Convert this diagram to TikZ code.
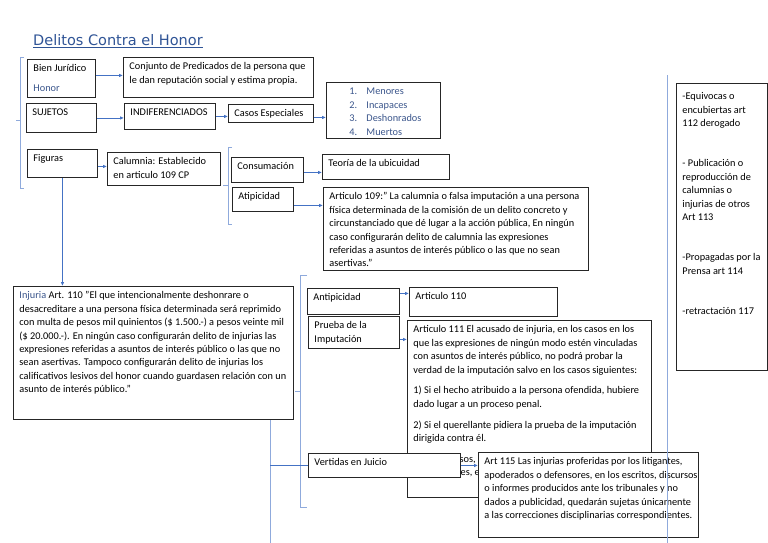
\documentclass[tikz,border=0pt]{standalone}
\usepackage{fontspec}
\setmainfont{Carlito}
\newfontfamily\titlefont{DejaVu Sans}
\usetikzlibrary{arrows.meta}
\definecolor{linkblue}{RGB}{68,114,196}
\definecolor{braceblue}{RGB}{143,170,220}
\definecolor{headblue}{RGB}{47,84,150}
\definecolor{itemblue}{RGB}{59,86,140}
\newcommand{\bodysize}{\fontsize{10.3}{13.4}\selectfont}
\newcommand{\boxtxt}[4][0pt]{\parbox[t][#3pt][t]{#2pt}{\vspace*{#1}%
  \begin{tabular}[t]{@{}l@{}}#4\end{tabular}}}
\tikzset{
  box/.style={draw=black!85, line width=0.9pt, fill=white, anchor=north west,
    inner xsep=6pt, inner ysep=3pt, font=\bodysize},
  link/.style={draw=linkblue, line width=0.8pt, -{Latex[length=4pt,width=3.6pt]}},
  bracket/.style={draw=braceblue, line width=0.8pt},
}
\begin{document}
\begin{tikzpicture}[x=1pt,y=-1pt]
  \useasboundingbox[fill=white] (0,0) rectangle (768,543);
  % title
  \node[anchor=base west, inner sep=0pt, text=headblue,
    font=\titlefont\fontsize{14.5}{17}\selectfont] (title) at (33,46)
    {\underline{Delitos Contra el Honor}};
  % brackets
  \draw[bracket] (24,57) -- (20,57) -- (20,188) -- (24,188);
  \draw[bracket] (20,120) -- (16,120);
  \draw[bracket] (232,147) -- (228,147) -- (228,224) -- (232,224);
  \draw[bracket] (228,185) -- (223,185);
  \draw[bracket] (307,275) -- (300,275) -- (300,507) -- (307,507);
  \draw[bracket] (300,391) -- (295,391);
  \draw[bracket] (292,418) -- (270,418) -- (270,543);
  \coordinate (juicio) at (270,467);
  % boxes
  \node[box] (bien) at (27,59) {\boxtxt{56}{32}{Bien Jurídico\\[6.6pt]{\color{itemblue}Honor}}};
  \node[box] (conj) at (123,57) {\boxtxt{178}{34}{Conjunto de Predicados de la persona que\\
    le dan reputación social y estima propia.}};
  \node[box] (suj) at (26,103) {\boxtxt{58}{23}{SUJETOS}};
  \node[box] (indif) at (124,103) {\boxtxt{79}{20}{INDIFERENCIADOS}};
  \node[box] (casos) at (228,104) {\boxtxt{73}{12}{Casos Especiales}};
  \node[box, text=itemblue] (lista) at (326,82) {\boxtxt{102}{50}{%
    \hspace*{17pt}\makebox[17pt][l]{1.}Menores\\
    \hspace*{17pt}\makebox[17pt][l]{2.}Incapaces\\
    \hspace*{17pt}\makebox[17pt][l]{3.}Deshonrados\\
    \hspace*{17pt}\makebox[17pt][l]{4.}Muertos}};
  \node[box] (fig) at (27,149) {\boxtxt{58}{22}{Figuras}};
  \node[box] (calum) at (107,152) {\boxtxt{101}{27}{Calumnia: Establecido\\en articulo 109 CP}};
  \node[box] (consu) at (231,157) {\boxtxt{60}{19}{Consumación}};
  \node[box] (teoria) at (322,154) {\boxtxt{115}{19}{Teoría de la ubicuidad}};
  \node[box] (atip) at (232,187) {\boxtxt{49}{18}{Atipicidad}};
  \node[box] (art109) at (323,187) {\boxtxt{253}{77}{Articulo 109:" La calumnia o falsa imputación a una persona\\
    física determinada de la comisión de un delito concreto y\\
    circunstanciado que dé lugar a la acción pública, En ningún\\
    caso configurarán delito de calumnia las expresiones\\
    referidas a asuntos de interés público o las que no sean\\
    asertivas."}};
  \node[box] (injuria) at (13,286) {\boxtxt{268}{127}{{\color{itemblue}Injuria} Art. 110 "El que intencionalmente deshonrare o\\
    desacreditare a una persona física determinada será reprimido\\
    con multa de pesos mil quinientos (\$ 1.500.-) a pesos veinte mil\\
    (\$ 20.000.-). En ningún caso configurarán delito de injurias las\\
    expresiones referidas a asuntos de interés público o las que no\\
    sean asertivas. Tampoco configurarán delito de injurias los\\
    calificativos lesivos del honor cuando guardasen relación con un\\
    asunto de interés público."}};
  \node[box] (antip) at (307,288) {\boxtxt{80}{20}{Antipicidad}};
  \node[box] (art110) at (409,287) {\boxtxt{136}{23}{Articulo 110}};
  \node[box] (prueba) at (308,316) {\boxtxt{79}{26}{Prueba de la\\Imputación}};
  \node[box] (art111) at (407,320) {\boxtxt{232}{171}{Articulo 111 El acusado de injuria, en los casos en los\\
    que las expresiones de ningún modo estén vinculadas\\
    con asuntos de interés público, no podrá probar la\\
    verdad de la imputación salvo en los casos siguientes:\\[7.4pt]
    1) Si el hecho atribuido a la persona ofendida, hubiere\\
    dado lugar a un proceso penal.\\[7.4pt]
    2) Si el querellante pidiera la prueba de la imputación\\
    dirigida contra él.\\[7.4pt]
    En estos casos, si se probare la verdad de las\\
    imputaciones, el acusado quedará exento de pena.}};
  \node[box] (vert) at (308,453) {\boxtxt{140}{18}{Vertidas en Juicio}};
  \node[box] (art115) at (478,452) {\boxtxt{208}{79}{Art 115 Las injurias proferidas por los litigantes,\\
    apoderados o defensores, en los escritos, discursos\\
    o informes producidos ante los tribunales y no\\
    dados a publicidad, quedarán sujetas únicamente\\
    a las correcciones disciplinarias correspondientes.}};
  \node[box] (otras) at (676,83) {\boxtxt[4pt]{79}{281}{-Equivocas o\\encubiertas art\\112 derogado\\[26.8pt]
    - Publicación o\\reproducción de\\calumnias o\\injurias de otros\\Art 113\\[26.8pt]
    -Propagadas por la\\Prensa art 114\\[26.8pt]
    -retractación 117}};
  % connectors
  \draw[link] ([yshift=3pt]bien.east) -- ([yshift=3pt]bien.east -| conj.west);
  \draw[link] (suj.east) -- (suj.east -| indif.west);
  \draw[link] (indif.east) -- (indif.east -| casos.west);
  \draw[link] ([yshift=-4pt]casos.east) -- ([yshift=-4pt]casos.east -| lista.west);
  \draw[link] ([yshift=-3pt]fig.east) -- ([yshift=-3pt]fig.east -| calum.west);
  \draw[link] (fig.south) -- (fig.south |- injuria.north);
  \draw[link] ([yshift=-2.5pt]consu.east) -- ([yshift=-2.5pt]consu.east -| teoria.west);
  \draw[link] ([yshift=-6pt]atip.east) -- ([yshift=-6pt]atip.east -| art109.west);
  \draw[link] ([yshift=8pt]antip.east) -- ([yshift=8pt]antip.east -| art110.west);
  \draw[link] ([yshift=-7pt]prueba.east) -- ([yshift=-7pt]prueba.east -| art111.west);
  \draw[link] (vert.east) -- (vert.east -| art115.west);
  \draw[link, -] (juicio |- vert.west) -- (vert.west);
  % right bracket
  \draw[bracket] (667,75) -- (667,543);
\end{tikzpicture}
\end{document}
